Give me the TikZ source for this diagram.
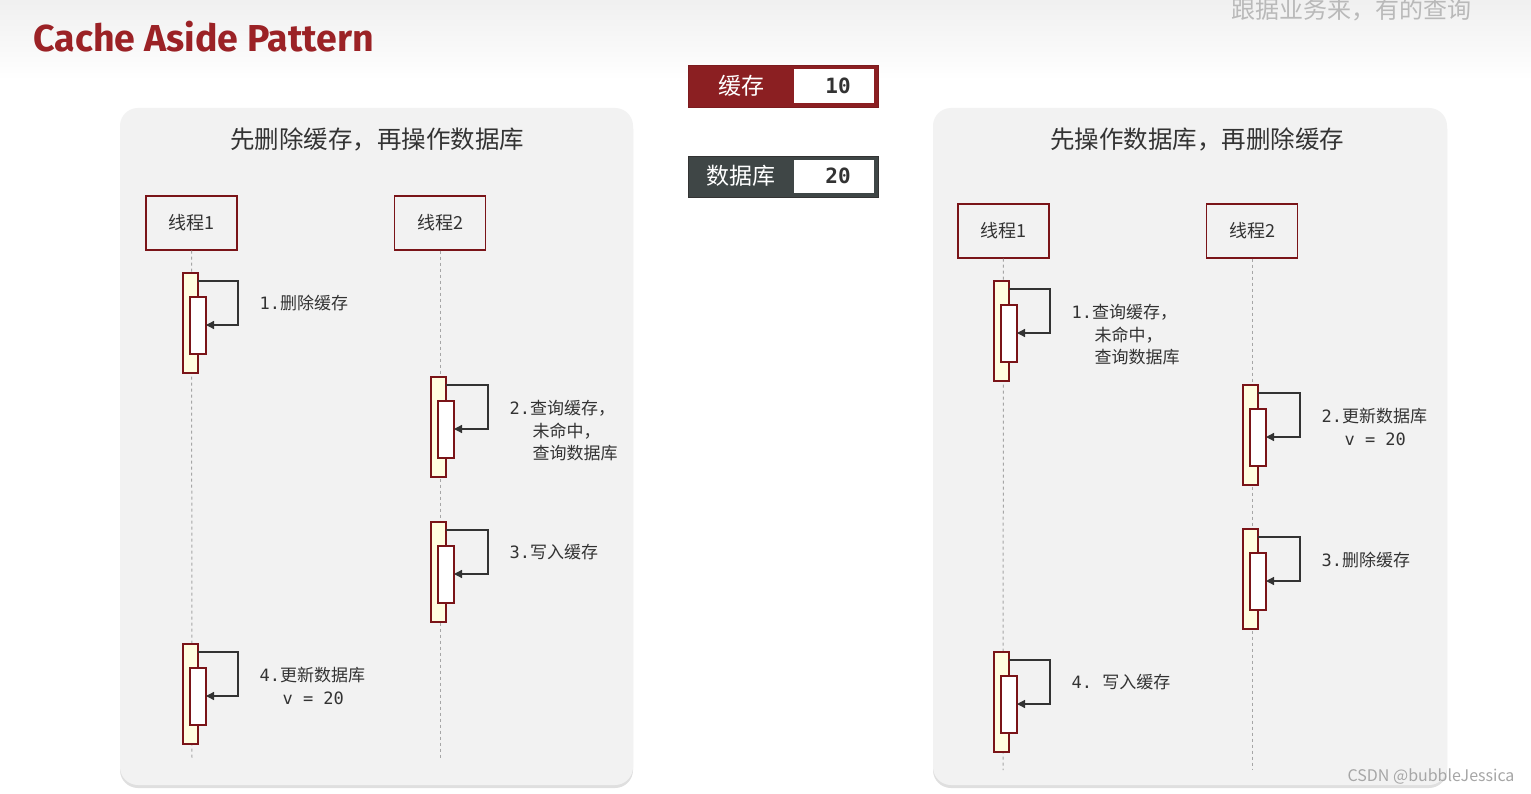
\documentclass[tikz,border=0pt]{standalone}
\usepackage{fontspec}
\setmainfont{Noto Sans CJK SC}
\newfontfamily\titlefont{Fira Sans}
\newfontfamily\monof{DejaVu Sans Mono}
\usetikzlibrary{shadows,arrows.meta}
\definecolor{dred}{HTML}{9B2226}
\definecolor{bord}{HTML}{7A1418}
\definecolor{panel}{HTML}{F2F2F2}
\definecolor{txt}{HTML}{333333}
\definecolor{dbcol}{HTML}{3F4646}
\tikzset{
 panelbox/.style={draw=none,fill=panel,rounded corners=18pt,drop shadow={opacity=0.25,shadow xshift=0pt,shadow yshift=-3pt}},
 thread/.style={draw=bord,line width=1.2pt,fill=panel,minimum width=91pt,minimum height=54pt,font=\fontsize{18}{18}\selectfont,text=txt},
 life/.style={draw=gray!70,dashed,line width=1pt},
 outerbar/.style={draw=bord,line width=1.1pt,fill=yellow!12},
 innerbar/.style={draw=bord,line width=1.1pt,fill=white},
 loop/.style={draw=txt,line width=1.3pt,-{Triangle[length=8pt,width=8pt]}},
 msg/.style={anchor=north west,align=left,font=\fontsize{17}{22.5}\selectfont,text=txt},
}
\newcommand\actv[4]{%
 \path[outerbar] (#2-9,#3) rectangle (#2+6,#3+100);
 \path[innerbar] (#2-2,#3+24) rectangle (#2+14,#3+81);
 \coordinate (#1s) at (#2+6,#3+8);
 \coordinate (#1e) at (#2+14,#3+52);
 \draw[loop] (#1s) -| (#4,#3+52) -- (#1e);
}
\newcommand\nm[1]{{\monof\fontsize{17}{22.5}\selectfont #1}}
\begin{document}
\begin{tikzpicture}[x=1pt,y=-1pt]
\useasboundingbox (0,0) rectangle (1531,794);
\fill[white] (0,0) rectangle (1531,794);
\shade[top color=gray!12,bottom color=white] (0,0) rectangle (1531,80);
\node[anchor=west,text=gray!55,font=\fontsize{24}{24}\selectfont] (topcut) at (1228,10) {跟据业务来，有的查询};
\node[anchor=west,text=dred,font=\titlefont\bfseries\fontsize{37.5}{37.5}\selectfont] (title) at (30,37) {Cache Aside Pattern};

\path[fill=dred!90!black,draw=dred!80!black] (688,65) rectangle (878,107);
\path[fill=white] (794,69) rectangle (874,103);
\node[text=white,font=\fontsize{23}{23}\selectfont] (cachek) at (741,86) {缓存};
\node[text=txt,font=\monof\bfseries\fontsize{21}{21}\selectfont] (cachev) at (838,86) {10};
\path[fill=dbcol,draw=black!80] (688,156) rectangle (878,197);
\path[fill=white] (794,160) rectangle (874,193);
\node[text=white,font=\fontsize{23}{23}\selectfont] (dbk) at (741,176) {数据库};
\node[text=txt,font=\monof\bfseries\fontsize{21}{21}\selectfont] (dbv) at (838,176) {20};

\path[panelbox] (120,108) rectangle (633,785);
\path[panelbox] (933,108) rectangle (1447,785);
\node[text=txt,font=\fontsize{24.5}{24.5}\selectfont] (lt) at (377,139) {先删除缓存，再操作数据库};
\node[text=txt,font=\fontsize{24.5}{24.5}\selectfont] (rt) at (1197,139) {先操作数据库，再删除缓存};

\node[thread] (lt1) at (191.5,223) {线程1};
\node[thread] (lt2) at (440,223) {线程2};
\coordinate (lt1e) at (192,760); \coordinate (lt2e) at (440,760);
\draw[life] (lt1) -- (lt1e);
\draw[life] (lt2) -- (lt2e);
\actv{la}{192}{273}{238}
\actv{lb}{440}{377}{488}
\actv{lc}{440}{522}{488}
\actv{ld}{192}{644}{238}
\node[msg] (m1) at (256,292) {\nm{1.}删除缓存};
\node[msg] (m2) at (506,397) {\nm{2.}查询缓存，\\\hspace*{23pt}未命中，\\\hspace*{23pt}查询数据库};
\node[msg] (m3) at (506,541) {\nm{3.}写入缓存};
\node[msg] (m4) at (256,664) {\nm{4.}更新数据库\\\hspace*{23pt}\nm{v = 20}};

\node[thread] (rt1) at (1003.5,231) {线程1};
\node[thread] (rt2) at (1252,231) {线程2};
\coordinate (rt1e) at (1003,770); \coordinate (rt2e) at (1252,770);
\draw[life] (rt1) -- (rt1e);
\draw[life] (rt2) -- (rt2e);
\actv{ra}{1003}{281}{1050}
\actv{rb}{1252}{385}{1300}
\actv{rc}{1252}{529}{1300}
\actv{rd}{1003}{652}{1050}
\node[msg] (n1) at (1068,301) {\nm{1.}查询缓存，\\\hspace*{23pt}未命中，\\\hspace*{23pt}查询数据库};
\node[msg] (n2) at (1318,405) {\nm{2.}更新数据库\\\hspace*{23pt}\nm{v = 20}};
\node[msg] (n3) at (1318,549) {\nm{3.}删除缓存};
\node[msg] (n4) at (1068,671) {\nm{4.~}写入缓存};

\node[anchor=east,text=gray!70,font=\fontsize{16}{16}\selectfont] (wm) at (1518,777) {CSDN @bubbleJessica};
\end{tikzpicture}
\end{document}
